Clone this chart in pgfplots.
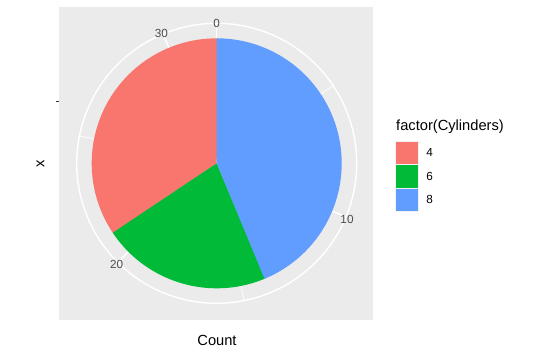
\documentclass[border=0pt]{standalone}
\usepackage{pgfplots}
\pgfplotsset{compat=1.18}
\usepackage{pgfplotstable}
\usepackage{fontspec}
\setmainfont{Liberation Sans}
\definecolor{c4}{HTML}{F8766D}
\definecolor{c6}{HTML}{00BA38}
\definecolor{c8}{HTML}{619CFF}
\definecolor{panel}{HTML}{EBEBEB}
\definecolor{keybg}{HTML}{F2F2F2}
\definecolor{grey30}{HTML}{4D4D4D}
\definecolor{grey20}{HTML}{333333}

\pgfplotstableread{
cyl count
4 11
6 7
8 14
}\cyldata

\begin{document}
\begin{tikzpicture}[x=1pt,y=1pt]
\pgfplotstablegetelem{0}{count}\of\cyldata \edef\nfour{\pgfplotsretval}
\pgfplotstablegetelem{1}{count}\of\cyldata \edef\nsix{\pgfplotsretval}
\pgfplotstablegetelem{2}{count}\of\cyldata \edef\neight{\pgfplotsretval}
\pgfmathsetmacro{\tot}{\nfour+\nsix+\neight}
\pgfmathsetmacro{\aA}{360*\neight/\tot}
\pgfmathsetmacro{\aB}{360*(\neight+\nsix)/\tot}
\useasboundingbox (0,0) rectangle (543,357);
\begin{axis}[
  at={(59.3pt,37pt)}, anchor=south west,
  scale only axis, width=314pt, height=313.3pt,
  xmin=-157.4, xmax=156.6, ymin=-156.7, ymax=156.6,
  axis background/.style={fill=panel},
  axis line style={draw=none},
  xtick=\empty, ytick={62}, yticklabels={}, ytick pos=left,
  tick align=outside, major tick length=3.67pt,
  tick style={grey20, line width=1.42pt},
  legend style={at={(1.0691,0.5713)}, anchor=north west, draw=none, fill=none,
    inner sep=0pt, outer sep=0pt, row sep=0pt, column sep=8pt,
    font=\fontsize{11.73}{14}\selectfont,
    nodes={inner sep=0pt, anchor=base west}},
]
% grid
\addplot[forget plot, white, line width=1.42pt, domain=0:360, samples=181] ({140*sin(x)},{140*cos(x)});
\pgfplotsinvokeforeach{0,10,20,30}{
  \addplot[forget plot, white, line width=1.42pt, domain=120:140, samples=2] ({x*sin(#1*360/\tot)},{x*cos(#1*360/\tot)});
}
\pgfplotsinvokeforeach{5,15,25}{
  \addplot[forget plot, white, line width=0.71pt, domain=120:140, samples=2] ({x*sin(#1*360/\tot)},{x*cos(#1*360/\tot)});
}
% pie (red drawn first, slightly overlapping under blue to hide the seam)
\addplot[forget plot, fill=c4, draw=none, domain=\aB-0.3:360.6, samples=120] ({125*sin(x)},{125*cos(x)}) -- (axis cs:0,0) -- cycle;
\addplot[forget plot, fill=c6, draw=none, domain=\aA-0.3:\aB, samples=80] ({125*sin(x)},{125*cos(x)}) -- (axis cs:0,0) -- cycle;
\addplot[forget plot, fill=c8, draw=none, domain=0:\aA, samples=120] ({125*sin(x)},{125*cos(x)}) -- (axis cs:0,0) -- cycle;
% theta labels
\node[grey30, font=\fontsize{11.73}{14}\selectfont] at (axis cs:0,140) {0};
\node[grey30, font=\fontsize{11.73}{14}\selectfont] at (axis cs:130.3,-55.9) {10};
\node[grey30, font=\fontsize{11.73}{14}\selectfont] at (axis cs:-100,-101.2) {20};
\node[grey30, font=\fontsize{11.73}{14}\selectfont] at (axis cs:-55.4,130) {30};
% legend
\addlegendimage{legend image code/.code={\fill[keybg] (0pt,-7.5pt) rectangle (23pt,15.5pt); \fill[c4] (0.7pt,-6.8pt) rectangle (22.3pt,14.8pt);}}
\addlegendentry{4}
\addlegendimage{legend image code/.code={\fill[keybg] (0pt,-7.5pt) rectangle (23pt,15.5pt); \fill[c6] (0.7pt,-6.8pt) rectangle (22.3pt,14.8pt);}}
\addlegendentry{6}
\addlegendimage{legend image code/.code={\fill[keybg] (0pt,-7.5pt) rectangle (23pt,15.5pt); \fill[c8] (0.7pt,-6.8pt) rectangle (22.3pt,14.8pt);}}
\addlegendentry{8}
\end{axis}
\node[anchor=base, font=\fontsize{14.67}{17}\selectfont] at (217,12) {Count};
\node[rotate=90, anchor=base, font=\fontsize{14.67}{17}\selectfont] at (44.3,193) {x};
\node[anchor=base west, inner sep=0pt, font=\fontsize{14.67}{17}\selectfont] at (396,226.5) {factor(Cylinders)};
\end{tikzpicture}
\end{document}
